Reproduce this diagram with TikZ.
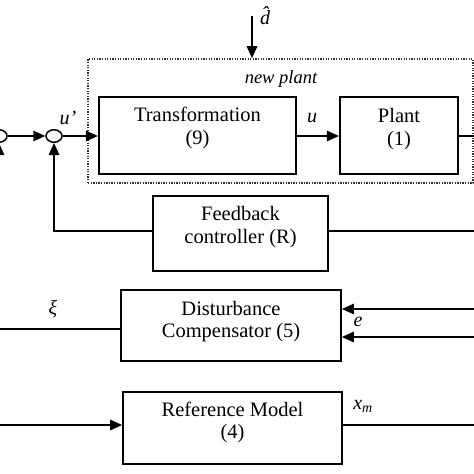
\documentclass[tikz,border=0pt]{standalone}
\usepackage{fontspec}
\setmainfont{Liberation Serif}
\usetikzlibrary{arrows.meta,shapes.geometric}
\newcommand{\liftt}[2]{\raisebox{#1}[\height][\depth]{\begin{tabular}{@{}c@{}}#2\end{tabular}}}
\begin{document}
\begin{tikzpicture}[x=1pt,y=-1pt,
  blk/.style={draw, line width=1.8pt, inner sep=0pt, align=center,
    font=\fontsize{20.5}{22.5}\selectfont},
  thick blk/.style={blk, line width=2.2pt},
  sumc/.style={draw, ellipse, line width=1.5pt, minimum width=16pt, minimum height=12.5pt, inner sep=0pt},
  arr/.style={line width=1.5pt, -{Triangle[length=12pt,width=10.5pt]}},
  ln/.style={line width=1.5pt},
  lbl/.style={font=\fontsize{20}{22}\selectfont\itshape, inner sep=0pt},
  dotbox/.style={draw, line width=1.6pt, dash pattern=on 1.3pt off 1.3pt, inner sep=0pt, black!80}
]
\useasboundingbox (0,0) rectangle (474,474);
\clip (0,0) rectangle (474,474);

% new plant (dotted)
\node[dotbox, minimum width=385pt, minimum height=124pt] (np) at (280.5,121) {};
\node[lbl, font=\fontsize{18.5}{20}\selectfont\itshape] (nplbl) at (281,79) {new plant};

% blocks
\node[thick blk, minimum width=197pt, minimum height=77pt] (tr) at (197.5,135.5) {\liftt{7pt}{Transformation\\(9)}};
\node[thick blk, minimum width=118pt, minimum height=77pt] (pl) at (399,135.5) {\liftt{6pt}{Plant\\(1)}};
\node[blk, minimum width=175pt, minimum height=75pt] (fb) at (240.5,233.5) {\liftt{6pt}{Feedback\\controller (R)}};
\node[blk, minimum width=220pt, minimum height=71pt] (dc) at (231,325.5) {\liftt{3.5pt}{Disturbance\\Compensator (5)}};
\node[blk, minimum width=219pt, minimum height=72pt] (rm) at (232.5,428) {\liftt{5pt}{Reference Model\\(4)}};

% summing junctions
\node[sumc] (s1) at (-1,136) {};
\node[sumc] (s2) at (54,136) {};

% free ends
\coordinate (s1in) at (-1,170);
\coordinate (din) at (252,16);
\coordinate (plout) at (474,136);
\coordinate (fbin) at (474,231);
\coordinate (xiout) at (0,329);
\coordinate (dcin1) at (474,309);
\coordinate (dcin2) at (474,337);
\coordinate (rmin) at (0,425);
\coordinate (rmout) at (474,425);

% connectors
\draw[arr] (s1in) -- (s1.south);
\draw[arr] (s1) -- (s2);
\draw[arr] (s2.east) -- (s2.east -| tr.west);
\draw[arr] (tr.east |- s2.east) -- (pl.west |- s2.east);
\draw[ln] (pl.east |- plout) -- (plout);
\draw[arr] (din) -- (din |- np.north);
\draw[ln] (fbin) -- (fbin -| fb.east);
\draw[arr] (fb.west |- fbin) -| (s2.south);
\draw[arr] (dcin1) -- (dcin1 -| dc.east);
\draw[arr] (dcin2) -- (dcin2 -| dc.east);
\draw[ln] (dc.west |- xiout) -- (xiout);
\draw[arr] (rmin) -- (rmin -| rm.west);
\draw[ln] (rm.east |- rmout) -- (rmout);

% labels
\node[lbl] (lup) at (68,118) {u’};
\node[lbl] (lu) at (312,118) {u};
\node[lbl] (ldh) at (265,16) {\^{d}};
\node[lbl] (lxi) at (53,309) {ξ};
\node[lbl] (le) at (358,322) {e};
\node[lbl] (lxm) at (363,406) {x\textsubscript{\itshape m}};
\end{tikzpicture}
\end{document}
